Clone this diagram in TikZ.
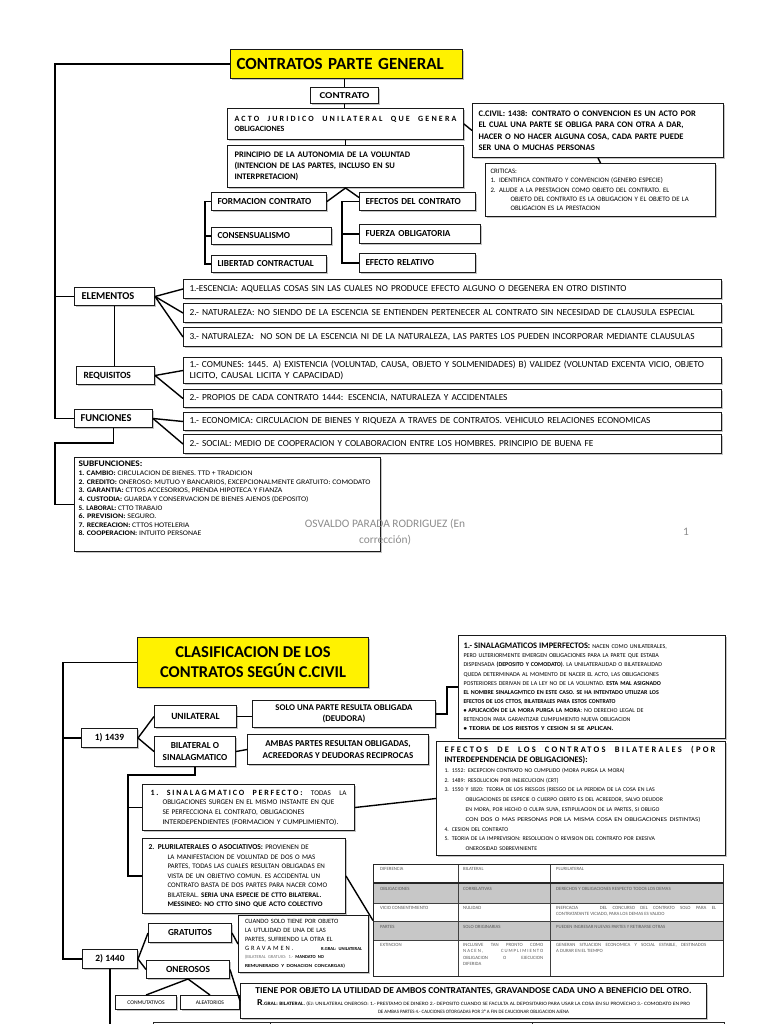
\documentclass[tikz,border=0pt]{standalone}
\usepackage{fontspec}
\setmainfont{Carlito}
\usepackage{graphicx}
\usetikzlibrary{shadows}
\newlength\jlw
\newcommand\jline[2]{\settowidth\jlw{#2}\ifdim\jlw<#1pt\makebox[#1pt][s]{#2}\else\resizebox{#1pt}{\height}{#2}\fi}
\newcommand\sline[2]{\settowidth\jlw{#2}\ifdim\jlw<#1pt\makebox[#1pt][s]{#2}\else\resizebox{#1pt}{\height}{#2}\fi}
\newcommand\fitw[2]{\resizebox{#1pt}{\height}{#2}}
\newcommand\fsz[2]{\fontsize{#1}{#2}\selectfont}
\tikzset{
  bx/.style={draw=black!90, line width=1pt, fill=white, anchor=north west, inner ysep=0pt,
    drop shadow={shadow xshift=1.6pt, shadow yshift=-1.6pt, fill=black!45, opacity=0.5}},
  cn/.style={line width=1.4pt, draw=black},
  lab/.style={font=\bfseries\fsz{9.2}{11}, inner xsep=6pt, align=left},
  ttl/.style={fill=yellow, draw=black!90, line width=1.1pt},
  rw/.style={inner xsep=6pt, text width=526pt, align=left, font=\fsz{9.3}{11}},
  tc/.style={anchor=north west, inner sep=0pt, font=\fsz{4.8}{6.5}, text=black!65, align=left},
}
\begin{document}
\begin{tikzpicture}[x=1pt,y=-1pt]
\fill[white] (0,0) rectangle (768,1024);
\useasboundingbox (0,0) rectangle (768,1024);

% ================= PAGE 1 =================
\node[bx,ttl,minimum width=232pt,minimum height=29pt,inner xsep=6pt,text width=220pt,align=left,font=\bfseries\fsz{17}{20}] (t1) at (230,49) {CONTRATOS PARTE GENERAL};
\node[bx,minimum width=68pt,minimum height=16pt,inner xsep=0pt,font=\bfseries\fsz{9}{10}] (ctr) at (310,87) {\fitw{50}{CONTRATO}};
\node[bx,minimum height=31pt,inner xsep=7pt,text width=222pt,align=left,font=\bfseries\fsz{8}{10}] (acto) at (227,108)
 {\sline{222}{\addfontfeature{LetterSpace=27}ACTO\hfill JURIDICO\hfill UNILATERAL\hfill QUE\hfill GENERA}\\OBLIGACIONES};
\node[bx,minimum height=54pt,inner xsep=6pt,text width=239pt,align=left,font=\bfseries\fsz{8.5}{11.5}] (civ) at (472,103)
 {\jline{239}{C.CIVIL: 1438: CONTRATO O CONVENCION ES UN ACTO POR}\\
  \jline{239}{EL CUAL UNA PARTE SE OBLIGA PARA CON OTRA A DAR,}\\
  \jline{239}{HACER O NO HACER ALGUNA COSA, CADA PARTE PUEDE}\\
  SER UNA O MUCHAS PERSONAS};
\node[bx,minimum height=42pt,inner xsep=7pt,text width=222pt,align=left,font=\bfseries\fsz{8.5}{11}] (pri) at (227,145)
 {\jline{222}{PRINCIPIO DE LA AUTONOMIA DE LA VOLUNTAD}\\
  \jline{222}{(INTENCION DE LAS PARTES, INCLUSO EN SU}\\
  INTERPRETACION)};
\node[bx,minimum height=53pt,inner xsep=5pt,text width=220pt,align=left,font=\fsz{6.8}{9.3}] (cri) at (485,163)
 {CRITICAS:\\
  1. IDENTIFICA CONTRATO Y CONVENCION (GENERO ESPECIE)\\
  \jline{220}{2. ALUDE A LA PRESTACION COMO OBJETO DEL CONTRATO. EL}\\
  \hspace*{20pt}\jline{200}{OBJETO DEL CONTRATO ES LA OBLIGACION Y EL OBJETO DE LA}\\
  \hspace*{20pt}OBLIGACION ES LA PRESTACION};

\node[bx,lab,minimum height=18pt,text width=103pt] (fc) at (211,192) {FORMACION CONTRATO};
\node[bx,lab,minimum height=18pt,text width=104pt] (ef) at (359,192) {EFECTOS DEL CONTRATO};
\node[bx,lab,minimum height=17pt,text width=108pt] (cons) at (211,227) {CONSENSUALISMO};
\node[bx,lab,minimum height=17pt,text width=103pt] (lib) at (211,255) {LIBERTAD CONTRACTUAL};
\node[bx,lab,minimum height=19pt,text width=109pt] (fo) at (359,224) {FUERZA OBLIGATORIA};
\node[bx,lab,minimum height=19pt,text width=104pt] (er) at (359,253) {EFECTO RELATIVO};

\node[bx,minimum height=18pt,inner xsep=7pt,text width=66pt,align=left,font=\bfseries\fsz{10.5}{12}] (ele) at (74,287) {ELEMENTOS};
\node[bx,minimum height=18pt,inner xsep=7pt,text width=64pt,align=left,font=\bfseries\fsz{9.5}{11}] (req) at (76,366) {REQUISITOS};
\node[bx,minimum height=18pt,inner xsep=6pt,text width=66pt,align=left,font=\bfseries\fsz{10.5}{12}] (fun) at (74,409) {FUNCIONES};

\node[bx,rw,minimum height=19pt] (r1) at (183,279) {\fitw{437}{1.-ESCENCIA: AQUELLAS COSAS SIN LAS CUALES NO PRODUCE EFECTO ALGUNO O DEGENERA EN OTRO DISTINTO}};
\node[bx,rw,minimum height=19pt] (r2) at (183,303) {\fitw{505}{2.- NATURALEZA: NO SIENDO DE LA ESCENCIA SE ENTIENDEN PERTENECER AL CONTRATO SIN NECESIDAD DE CLAUSULA ESPECIAL}};
\node[bx,rw,minimum height=19pt] (r3) at (183,327) {\fitw{505}{3.- NATURALEZA:~ NO SON DE LA ESCENCIA NI DE LA NATURALEZA, LAS PARTES LOS PUEDEN INCORPORAR MEDIANTE CLAUSULAS}};
\node[bx,rw,minimum height=26pt] (r4) at (183,357) {\jline{524}{1.- COMUNES: 1445. A) EXISTENCIA (VOLUNTAD, CAUSA, OBJETO Y SOLMENIDADES) B) VALIDEZ (VOLUNTAD EXCENTA VICIO, OBJETO}\\ \fitw{154}{LICITO, CAUSAL LICITA Y CAPACIDAD)}};
\node[bx,rw,minimum height=18pt] (r5) at (183,389) {\fitw{318}{2.- PROPIOS DE CADA CONTRATO 1444: ESCENCIA, NATURALEZA Y ACCIDENTALES}};
\node[bx,rw,minimum height=18pt] (r6) at (183,412) {\fitw{461}{1.- ECONOMICA: CIRCULACION DE BIENES Y RIQUEZA A TRAVES DE CONTRATOS. VEHICULO RELACIONES ECONOMICAS}};
\node[bx,rw,minimum height=19pt] (r7) at (183,434) {\fitw{404}{2.- SOCIAL: MEDIO DE COOPERACION Y COLABORACION ENTRE LOS HOMBRES. PRINCIPIO DE BUENA FE}};

\node[bx,inner xsep=4pt,inner ysep=3pt] (sub) at (74,457) {\parbox[c][88pt][t]{298pt}{\fsz{7}{8.6}\raggedright
  \fitw{64}{\bfseries\fsz{8.5}{9}SUBFUNCIONES:}\\[1pt]
  \fitw{174}{\textbf{1. CAMBIO:} CIRCULACION DE BIENES. TTD + TRADICION}\\
  \fitw{292}{\textbf{2. CREDITO:} ONEROSO: MUTUO Y BANCARIOS, EXCEPCIONALMENTE GRATUITO: COMODATO}\\
  \fitw{204}{\textbf{3. GARANTIA:} CTTOS ACCESORIOS, PRENDA HIPOTECA Y FIANZA}\\
  \fitw{230}{\textbf{4. CUSTODIA:} GUARDA Y CONSERVACION DE BIENES AJENOS (DEPOSITO)}\\
  \fitw{84}{\textbf{5. LABORAL:} CTTO TRABAJO}\\
  \fitw{78}{\textbf{6. PREVISION:} SEGURO.}\\
  \fitw{111}{\textbf{7. RECREACION:} CTTOS HOTELERIA}\\
  \fitw{123}{\textbf{8. COOPERACION:} INTUITO PERSONAE}}};

\node[font=\fsz{11.4}{16}, text=black!45, align=center] (ft) at (385,532) {OSVALDO PARADA RODRIGUEZ (En\\corrección)};
\node[font=\fsz{11.4}{14}, text=black!45] (pn) at (686,532) {1};

% connectors page 1
\draw[cn] (t1.west) -- ++(-175,0) |- (fun.west);
\draw[cn] (ele.west) -- ++(-19,0);
\draw[cn] (t1.south -| ctr.north) -- (ctr.north);
\draw[cn] (ctr.south) -- (ctr.south |- acto.north);
\draw[cn] (acto.east) -- (civ.west);
\draw[cn] (acto.south) -- (pri.north);
\draw[cn] (civ.south) -- (cri.north);
\draw[cn] (fc.east) -- (pri.south) -- ([yshift=4pt]ef.west);
\draw[cn] (fc.west) -- ++(-6,0) coordinate (bl) |- (lib.west);
\draw[cn] (cons.west) -- (bl |- cons.west);
\draw[cn] (ef.west) -- ++(-17,0) coordinate (brc) |- (er.west);
\draw[cn] (fo.west) -- (brc |- fo.west);
\draw[cn] (ele.east) -- (r1.west);
\draw[cn] (ele.east) -- (r2.west);
\draw[cn] (ele.east) -- (r3.west);
\draw[cn] (ele.south) -- (ele.south |- req.north);
\draw[cn] (req.east) -- (r4.west);
\draw[cn] (req.east) -- (r5.west);
\draw[cn] (fun.east) -- (r6.west);
\draw[cn] (fun.east) -- (r7.west);
\coordinate (k1) at (55,443);
\draw[cn] (fun.south) |- (k1) |- (sub.west);

% ================= PAGE 2 =================
\node[bx,ttl,minimum width=231pt,minimum height=50pt,align=center,font=\bfseries\fsz{16.5}{20}] (t2) at (137,637) {CLASIFICACION DE LOS\\CONTRATOS SEGÚN C.CIVIL};
\node[bx,minimum width=56pt,minimum height=19pt,font=\bfseries\fsz{9.5}{11}] (p39) at (81,728) {1) 1439};
\node[bx,minimum width=82pt,minimum height=22pt,font=\bfseries\fsz{9.5}{11}] (uni) at (154,705) {UNILATERAL};
\node[bx,minimum width=183pt,minimum height=27pt,align=center,font=\bfseries\fsz{8.8}{10.5}] (solo) at (252,700) {SOLO UNA PARTE RESULTA OBLIGADA\\(DEUDORA)};
\node[bx,minimum height=103pt,inner xsep=5pt,text width=257pt,align=left,font=\fsz{6}{9.1}] (imp) at (458,635)
 {\jline{257}{{\bfseries\fsz{8.4}{9}1.- SINALAGMATICOS IMPERFECTOS:} NACEN COMO UNILATERALES,}\\
  \jline{257}{PERO ULTERIORMENTE EMERGEN OBLIGACIONES PARA LA PARTE QUE ESTABA}\\
  \jline{257}{DISPENSADA \textbf{(DEPOSITO Y COMODATO)}. LA UNILATERALIDAD O BILATERALIDAD}\\
  \jline{257}{QUEDA DETERMINADA AL MOMENTO DE NACER EL ACTO, LAS OBLIGACIONES}\\
  \jline{257}{POSTERIORES DERIVAN DE LA LEY NO DE LA VOLUNTAD. \textbf{ESTA MAL ASIGNADO}}\\
  \jline{257}{\bfseries EL NOMBRE SINALAGMTICO EN ESTE CASO. SE HA INTENTADO UTILIZAR LOS}\\
  \fitw{152}{\bfseries EFECTOS DE LOS CTTOS, BILATERALES PARA ESTOS CONTRATO}\\
  \jline{257}{\textbf{• APLICACIÓN DE LA MORA PURGA LA MORA}: NO DERECHO LEGAL DE}\\
  \fitw{167}{RETENCION PARA GARANTIZAR CUMPLIMIENTO NUEVA OBLIGACION}\\
  \fitw{150}{\bfseries • TEORIA DE LOS RIESTOS Y CESION SI SE APLICAN.}};
\node[bx,minimum width=81pt,minimum height=30pt,align=center,font=\bfseries\fsz{9.2}{12}] (bil) at (154,736) {BILATERAL O\\SINALAGMATICO};
\node[bx,minimum width=181pt,minimum height=30pt,align=center,font=\bfseries\fsz{9}{12}] (amb) at (247,734) {AMBAS PARTES RESULTAN OBLIGADAS,\\ACREEDORAS Y DEUDORAS RECIPROCAS};
\node[bx,minimum height=114pt,inner xsep=8pt,text width=273pt,align=left,font=\fsz{5.8}{9.8}] (efe) at (436,741)
 {\sline{271}{\bfseries\fsz{8.5}{9}\addfontfeature{LetterSpace=26}EFECTOS\hfill DE\hfill LOS\hfill CONTRATOS\hfill BILATERALES\hfill (POR}\\
  {\bfseries\fsz{8.5}{9}INTERDEPENDENCIA DE OBLIGACIONES):}\\
  1. 1552: EXCEPCION CONTRATO NO CUMPLIDO (MORA PURGA LA MORA)\\
  2. 1489: RESOLUCION POR INEJECUCION (CRT)\\
  \jline{271}{3. 1550 Y 1820: TEORIA DE LOS RIESGOS (RIESGO DE LA PERDIDA DE LA COSA EN LAS}\\
  \hspace*{21pt}\jline{250}{OBLIGACIONES DE ESPECIE O CUERPO CIERTO ES DEL ACREEDOR, SALVO DEUDOR}\\
  \hspace*{21pt}\jline{250}{EN MORA, POR HECHO O CULPA SUYA, ESTIPULACION DE LA PARTES, SI OBLIGO}\\
  \hspace*{21pt}\fitw{235}{CON DOS O MAS PERSONAS POR LA MISMA COSA EN OBLIGACIONES DISTINTAS)}\\
  4. CESION DEL CONTRATO\\
  \jline{271}{5. TEORIA DE LA IMPREVISION: RESOLUCION O REVISION DEL CONTRATO POR EXESIVA}\\
  \hspace*{21pt}ONEROSIDAD SOBREVINIENTE};
\node[bx,minimum height=46pt,inner xsep=8pt,text width=196pt,align=left,font=\fsz{7.2}{9.7}] (sp) at (142,784)
 {\sline{196}{{\bfseries\fsz{8}{9}\addfontfeature{LetterSpace=22}1.\hfill SINALAGMATICO\hfill PERFECTO:}\hfill TODAS\hfill LA}\\
  \hspace*{12pt}\jline{184}{OBLIGACIONES SURGEN EN EL MISMO INSTANTE EN QUE}\\
  \hspace*{12pt}\jline{184}{SE PERFECCIONA EL CONTRATO, OBLIGACIONES}\\
  \hspace*{12pt}\fitw{176}{INTERDEPENDIENTES (FORMACION Y CUMPLIMIENTO).}};
\node[bx,minimum height=75pt,inner xsep=6pt,text width=191pt,align=left,font=\fsz{7}{9.5}] (plu) at (142,838)
 {\jline{191}{{\bfseries\fsz{7.5}{9}2. PLURILATERALES O ASOCIATIVOS:} PROVIENEN DE}\\
  \hspace*{19pt}\jline{172}{LA MANIFESTACION DE VOLUNTAD DE DOS O MAS}\\
  \hspace*{19pt}\jline{172}{PARTES, TODAS LAS CUALES RESULTAN OBLIGADAS EN}\\
  \hspace*{19pt}\jline{172}{VISTA DE UN OBJETIVO COMUN. ES ACCIDENTAL UN}\\
  \hspace*{19pt}\jline{172}{CONTRATO BASTA DE DOS PARTES PARA NACER COMO}\\
  \hspace*{19pt}\jline{172}{BILATERAL. \textbf{SERIA UNA ESPECIE DE CTTO BILATERAL.}}\\
  \hspace*{19pt}\fitw{155}{\bfseries MESSINEO: NO CTTO SINO QUE ACTO COLECTIVO}};

% table
\fill[black!22] (373,883) rectangle (723,903);
\fill[black!22] (373,921) rectangle (723,940);
\draw[black!75, line width=0.6pt] (373,903) -- (723,903) (373,921) -- (723,921) (373,940) -- (723,940)
  (458,864) -- (458,976) (550,864) -- (550,976);
\draw[black!85, line width=1.1pt] (373,883) -- (723,883);
\node[draw=black!85, line width=1.1pt, anchor=north west, minimum width=350pt, minimum height=112pt, inner sep=0pt] (tbl) at (373,864) {};
\node[tc] (c11) at (380,867) {DIFERENCIA};
\node[tc] (c12) at (463,867) {BILATERAL};
\node[tc] (c13) at (556,867) {PLURILATERAL};
\node[tc] (c21) at (380,887) {OBLIGACIONES};
\node[tc] (c22) at (463,887) {CORRELATIVAS};
\node[tc] (c23) at (556,887) {DERECHOS Y OBLIGACIONES RESPECTO TODOS LOS DEMAS};
\node[tc] (c31) at (380,906) {VICIO CONSENTIMIENTO};
\node[tc] (c32) at (463,906) {NULIDAD};
\node[tc] (c33) at (556,906) {\jline{160}{INEFICACIA~~~ DEL CONCURSO DEL CONTRATO SOLO PARA EL}\\CONTRATATANTE VICIADO, PARA LOS DEMAS ES VALIDO};
\node[tc] (c41) at (380,925) {PARTES};
\node[tc] (c42) at (463,925) {SOLO ORIGINARIAS};
\node[tc] (c43) at (556,925) {PUEDEN INGRESAR NUEVAS PARTES Y RETIRARSE OTRAS};
\node[tc] (c51) at (380,943) {EXTINCION};
\node[tc] (c52) at (463,943) {\jline{80}{INCLUSIVE TAN PRONTO COMO}\\\sline{80}{\addfontfeature{LetterSpace=20}NACEN,\hfill CUMPLIMIENTO}\\\jline{80}{OBLIGACION O EJECUCION}\\DIFERIDA};
\node[tc] (c53) at (556,943) {\jline{150}{GENERAN SITUACION ECONOMICA Y SOCIAL ESTABLE, DESTINADOS}\\A DURAR EN EL TIEMPO};

\node[bx,minimum width=55pt,minimum height=19pt,font=\bfseries\fsz{9.5}{11}] (p40) at (82,949) {2) 1440};
\node[bx,minimum width=83pt,minimum height=19pt,font=\bfseries\fsz{9.2}{11}] (gra) at (148,923) {GRATUITOS};
\node[bx,minimum width=83pt,minimum height=18pt,font=\bfseries\fsz{9.4}{11}] (one) at (146,960) {ONEROSOS};
\node[bx,minimum width=61pt,minimum height=14pt,font=\fsz{5.6}{7}] (con) at (115,995) {CONMUTATIVOS};
\node[bx,minimum width=59pt,minimum height=14pt,font=\fsz{5.6}{7}] (ale) at (180,995) {ALEATORIOS};
\node[bx,minimum height=57pt,inner xsep=6.5pt,text width=117pt,align=left,font=\fsz{6.5}{8.8}] (gtx) at (238,915)
 {\jline{117}{CUANDO SOLO TIENE POR OBJETO}\\
  \jline{117}{LA UTULIDAD DE UNA DE LAS}\\
  \jline{117}{PARTES, SUFRIENDO LA OTRA EL}\\
  \sline{117}{{\addfontfeature{LetterSpace=30}GRAVAMEN.}\hfill{\bfseries\fsz{4.6}{5}R.GRAL: UNILATERAL}}\\
  \jline{117}{\fsz{4.6}{5}{\color{black!55}(BILATERAL GRATUIO: 1.-} \textbf{MANDATO NO}}\\
  \fitw{100}{\bfseries\fsz{4.6}{5}REMUNERADO Y DONACION CONCARGAS)}};
\node[bx,minimum width=466pt,minimum height=35pt,align=center,font=\fsz{5}{8.5}] (tie) at (240,983)
 {\fitw{436}{\bfseries\fsz{9}{10}TIENE POR OBJETO LA UTILIDAD DE AMBOS CONTRATANTES, GRAVANDOSE CADA UNO A BENEFICIO DEL OTRO.}\\[3pt]
  \fitw{433}{{\bfseries\fsz{9}{9}R\fsz{5}{6}.GRAL: BILATERAL.} (EJ: UNILATERAL ONEROSO: 1.- PRESTAMO DE DINERO 2.- DEPOSITO CUANDO SE FACULTA AL DEPOSITARIO PARA USAR LA COSA EN SU PROVECHO 3.- COMODATO EN PRO}\\
  \fitw{191}{DE AMBAS PARTES 4.- CAUCIONES OTORGADAS POR 3º A FIN DE CAUCIONAR OBLIGACION AJENA}};

% partial table at the bottom
\draw[black!85, line width=1pt] (153,1030) |- (724,1022) -- (724,1030);
\draw[black!85, line width=1pt] (270,1022) -- (270,1030) (532,1022) -- (532,1030);

% connectors page 2
\draw[cn] (t2.west) -- ++(-74,0) |- (p40.west);
\draw[cn] (p39.west) -- ++(-18,0);
\draw[cn] (p39.east) -- (uni.west);
\draw[cn] (p39.east) -- (bil.west);
\draw[cn] (uni.east) -- (solo.west |- uni.east);
\draw[cn] (bil.east) -- (amb.west);
\draw[cn] (solo.east) -- ++(11,0) |- (imp.west);
\coordinate (k2) at (128,775);
\draw[cn] (bil.south) |- (k2) |- (plu.west);
\draw[cn] (sp.west) -- (k2 |- sp.west);
\draw[cn] (sp.east) -- (efe.west);
\draw[cn] (plu.east) -- (tbl.west);
\draw[cn] (p40.east) -- (gra.west);
\draw[cn] (p40.east) -- (one.west);
\draw[cn] (gra.east) -- (gtx.west);
\draw[cn] (one.east) -- (tie.west);
\draw[cn] (one.south) -- (con.north);
\draw[cn] (one.south) -- (ale.north);
\coordinate (kb) at (109.5,1030);
\draw[cn] (p40.south) -- (p40.south |- kb);
\end{tikzpicture}
\end{document}
